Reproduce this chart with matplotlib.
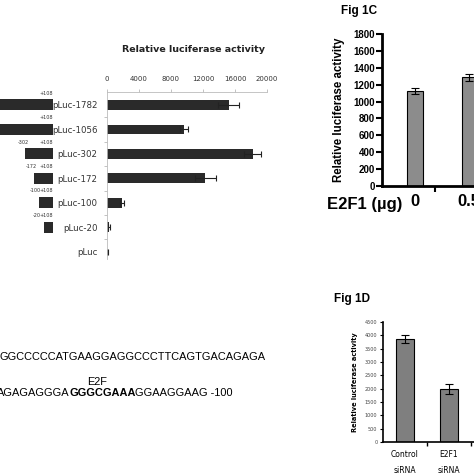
import matplotlib
matplotlib.use('Agg')
import matplotlib.pyplot as plt
import numpy as np

# --- panel B: promoter deletion constructs ---
constructs = ['pLuc-1782', 'pLuc-1056', 'pLuc-302', 'pLuc-172', 'pLuc-100', 'pLuc-20', 'pLuc']
starts = [-1782, -1056, -302, -172, -100, -20, None]
end_pos = 108
luc_activity = [15200, 9600, 18200, 12300, 1900, 250, 60]
luc_err = [1300, 500, 1100, 1300, 250, 80, 20]
b_ticks = [0, 4000, 8000, 12000, 16000, 20000]

# --- panel C: E2F1 dose ---
e2f1_dose = ['0', '0.5', '1']
c_activity = [1120, 1285, 1400]
c_err = [35, 40, 40]
c_ticks = [0, 200, 400, 600, 800, 1000, 1200, 1400, 1600, 1800]

# --- panel D: siRNA ---
sirna = ['Control\nsiRNA', 'E2F1\nsiRNA', '']
d_activity = [3850, 1980, 0]
d_err = [150, 190, 0]
d_ticks = [0, 500, 1000, 1500, 2000, 2500, 3000, 3500, 4000, 4500]

# --- panel A sequence ---
seq_line1 = 'GGCCCCCATGAAGGAGGCCCTTCAGTGACAGAGA'
seq_pre = 'AGAGAGGGA'
seq_site = 'GGGCGAAA'
seq_post = 'GGAAGGAAG -100'

W = 474
fig = plt.figure(figsize=(4.74, 4.74), dpi=100)


def box(l, t, r, b):
    return [l / W, 1 - b / W, (r - l) / W, (b - t) / W]


# ---------- panel B bars ----------
axb = fig.add_axes(box(107, 92, 267, 259))
y = np.arange(len(constructs))
axb.barh(y, luc_activity, height=0.4, color='#2a2a2a',
         xerr=luc_err, error_kw=dict(ecolor='#222222', elinewidth=0.8, capsize=2.5, capthick=0.8))
axb.set_xlim(0, 20000)
axb.set_ylim(6.3, -0.53)
axb.xaxis.tick_top()
axb.set_xticks(b_ticks)
axb.set_xticklabels([str(v) for v in b_ticks], fontsize=5, color='#333333')
axb.tick_params(axis='x', length=2, width=0.5, color='#aaaaaa', pad=5)
axb.set_yticks(y)
axb.set_yticklabels(constructs, fontsize=6.2, color='#333333')
axb.set_yticks(y[:-1] + 0.5, minor=True)
axb.tick_params(axis='y', which='major', length=0, pad=7)
axb.tick_params(axis='y', which='minor', length=2, width=0.5, color='#aaaaaa')
for s in ['right', 'bottom']:
    axb.spines[s].set_visible(False)
axb.spines['top'].set_color('#bbbbbb')
axb.spines['left'].set_color('#bbbbbb')
axb.spines['top'].set_linewidth(0.6)
axb.spines['left'].set_linewidth(0.6)
fig.text(194 / W, 1 - 50 / W, 'Relative luciferase activity', fontsize=6.8,
         fontweight='bold', ha='center', va='center', color='#222222')

# construct diagram
axd = fig.add_axes(box(0, 92, 53, 259))
axd.set_xlim(-671, end_pos)
axd.set_ylim(6.3, -0.53)
axd.axis('off')
for i, st in enumerate(starts):
    if st is None:
        continue
    axd.barh(i, end_pos - st, left=st, height=0.45, color='#2a2a2a')
    axd.text(end_pos, i - 0.38, '+108', fontsize=3.5, ha='right', va='bottom', color='#333333')
    if st > -671:
        axd.text(min(st + 50, -70), i - 0.38, str(st), fontsize=3.5, ha='right',
                 va='bottom', color='#333333')

# ---------- panel C ----------
fig.text(359 / W, 1 - 11 / W, 'Fig 1C', fontsize=8.5, fontweight='bold',
         family='Liberation Sans', ha='center', va='center')
axc = fig.add_axes(box(382, 34, 545, 186))
xc = np.arange(len(e2f1_dose))
axc.bar(xc, c_activity, width=0.28, color='#8c8c8c', edgecolor='black', linewidth=0.8,
        yerr=c_err, error_kw=dict(ecolor='black', elinewidth=0.8, capsize=3, capthick=0.8))
axc.set_xlim(-0.61, 2.4)
axc.set_ylim(0, 1800)
axc.set_yticks(c_ticks)
axc.set_yticklabels([str(v) for v in c_ticks], fontsize=7, fontweight='bold', family='Liberation Sans')
axc.set_xticks(xc)
axc.set_xticklabels(e2f1_dose, fontsize=12, fontweight='bold', family='Liberation Sans')
axc.set_xticks([0.37, 1.37], minor=True)
axc.tick_params(axis='x', which='major', length=0, pad=6)
axc.tick_params(axis='x', which='minor', length=4, width=1.5, direction='out')
axc.tick_params(axis='y', length=4, width=1.5, pad=1)
for s in ['right', 'top']:
    axc.spines[s].set_visible(False)
axc.spines['left'].set_linewidth(2)
axc.spines['bottom'].set_linewidth(2)
axc.set_ylabel('Relative luciferase activity', fontsize=8.3, fontweight='bold',
               family='Liberation Sans', labelpad=6)
fig.text(327 / W, 1 - 205 / W, 'E2F1 (\u00b5g)', fontsize=12, fontweight='bold',
         family='Liberation Sans', ha='left', va='center')

# ---------- panel D ----------
fig.text(352 / W, 1 - 299 / W, 'Fig 1D', fontsize=8.5, fontweight='bold',
         family='Liberation Sans', ha='center', va='center')
axs = fig.add_axes(box(383, 322, 515, 442))
xd = np.arange(len(sirna))
axs.bar(xd[:2], d_activity[:2], width=0.41, color='#7f7f7f', edgecolor='black', linewidth=0.8,
        yerr=d_err[:2], error_kw=dict(ecolor='black', elinewidth=0.8, capsize=3, capthick=0.8))
axs.set_xlim(-0.5, 2.5)
axs.set_ylim(0, 4500)
axs.set_yticks(d_ticks)
axs.set_yticklabels([str(v) for v in d_ticks], fontsize=3.5, color='#444444')
axs.set_xticks(xd)
axs.set_xticklabels(sirna, fontsize=5.5, linespacing=2.0)
axs.set_xticks([0.5, 1.5], minor=True)
axs.tick_params(axis='x', which='major', length=0, pad=6)
axs.tick_params(axis='x', which='minor', length=3, width=1, direction='out')
axs.tick_params(axis='y', length=2, width=0.8, pad=2)
for s in ['right', 'top']:
    axs.spines[s].set_visible(False)
axs.spines['left'].set_linewidth(1.2)
axs.spines['bottom'].set_linewidth(1.2)
axs.set_ylabel('Relative luciferase activity', fontsize=4.8, fontweight='bold', labelpad=5)

# ---------- panel A sequence ----------
seq_font = dict(fontsize=7.9, family='Liberation Sans', va='center')
fig.text(0 / W, 1 - 357 / W, seq_line1, ha='left', **seq_font)
fig.text(97 / W, 1 - 382 / W, 'E2F', ha='center', **seq_font)
t1 = fig.text(-3 / W, 1 - 393 / W, seq_pre, ha='left', **seq_font)
t2 = fig.text(0, 0, seq_site, ha='left', fontweight='bold', **seq_font)
t3 = fig.text(0, 0, seq_post, ha='left', **seq_font)
fig.canvas.draw()
r = fig.canvas.get_renderer()
ext = t1.get_window_extent(r)
t2.set_position(((ext.x1 - 0.5) / W, 1 - 393 / W))
fig.canvas.draw()
ext2 = t2.get_window_extent(r)
t3.set_position(((ext2.x1 - 0.5) / W, 1 - 393 / W))

fig.savefig('out.png', dpi=100)
